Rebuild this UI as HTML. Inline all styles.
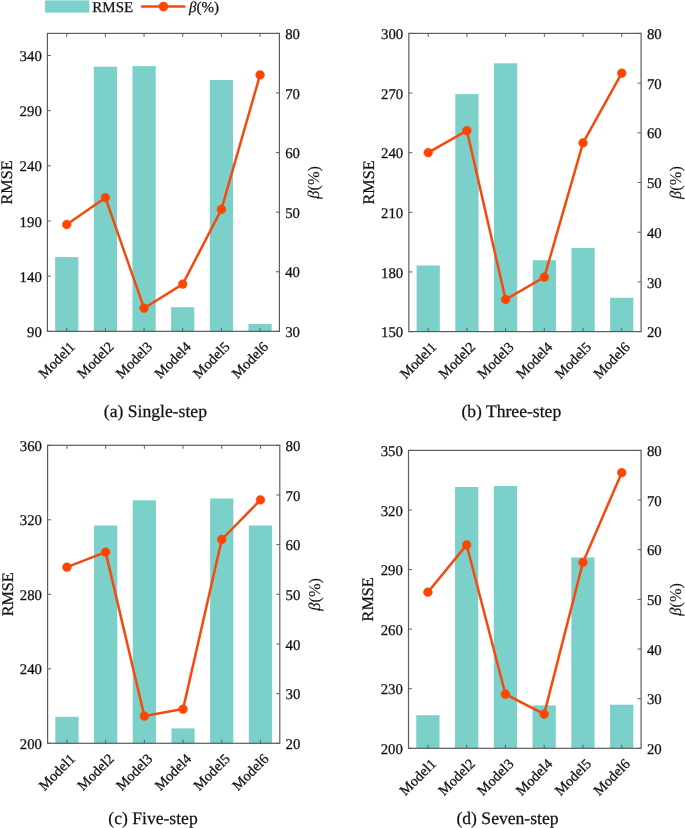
<!DOCTYPE html>
<html><head><meta charset="utf-8"><title>RMSE and β comparison</title>
<style>
html,body{margin:0;padding:0;background:#fff;}
body{width:685px;height:828px;overflow:hidden;}
svg{display:block;}
text{text-rendering:geometricPrecision;font-family:'Liberation Serif', 'Times New Roman', serif;font-size:14.8px;fill:#111;stroke:#111;stroke-width:0.25px;}
</style></head><body>
<svg width="685" height="828" viewBox="0 0 685 828">
<rect width="685" height="828" fill="#fff"/>
<rect x="45.1" y="0.4" width="44.2" height="12.2" fill="#7BD1CA"/>
<text x="92.3" y="11.7" style="font-size:15px">RMSE</text>
<path d="M141.1 6.6H185.4" stroke="#F44A0E" stroke-width="2.5"/>
<circle cx="163.5" cy="6.6" r="4.6" fill="#FF4500" stroke="#F44A0E" stroke-width="0.5"/>
<text x="189" y="11.7" style="font-size:15px"><tspan font-style="italic">β</tspan>(%)</text>
<rect x="55.13" y="257.1" width="23.2" height="74.25" fill="#7BD1CA"/>
<rect x="93.8" y="66.7" width="23.2" height="264.65" fill="#7BD1CA"/>
<rect x="132.47" y="66.1" width="23.2" height="265.25" fill="#7BD1CA"/>
<rect x="171.13" y="307.2" width="23.2" height="24.15" fill="#7BD1CA"/>
<rect x="209.8" y="80" width="23.2" height="251.35" fill="#7BD1CA"/>
<rect x="248.47" y="324" width="23.2" height="7.35" fill="#7BD1CA"/>
<text x="41.8" y="336.95" text-anchor="end">90</text>
<text x="41.8" y="281.77" text-anchor="end">140</text>
<text x="41.8" y="226.6" text-anchor="end">190</text>
<text x="41.8" y="171.42" text-anchor="end">240</text>
<text x="41.8" y="116.25" text-anchor="end">290</text>
<text x="41.8" y="61.07" text-anchor="end">340</text>
<text x="285.2" y="336.95">30</text>
<text x="285.2" y="277.36">40</text>
<text x="285.2" y="217.77">50</text>
<text x="285.2" y="158.18">60</text>
<text x="285.2" y="98.59">70</text>
<text x="285.2" y="39">80</text>
<path d="M47.4 331.35h3.5M47.4 276.17h3.5M47.4 221h3.5M47.4 165.82h3.5M47.4 110.65h3.5M47.4 55.47h3.5M279.4 331.35h-3.5M279.4 271.76h-3.5M279.4 212.17h-3.5M279.4 152.58h-3.5M279.4 92.99h-3.5M279.4 33.4h-3.5M66.73 331.35v-3.5M66.73 33.4v3.5M105.4 331.35v-3.5M105.4 33.4v3.5M144.07 331.35v-3.5M144.07 33.4v3.5M182.73 331.35v-3.5M182.73 33.4v3.5M221.4 331.35v-3.5M221.4 33.4v3.5M260.07 331.35v-3.5M260.07 33.4v3.5" stroke="#5c5c5c" stroke-width="1" fill="none"/>
<rect x="47.4" y="33.4" width="232" height="297.95" fill="none" stroke="#5c5c5c" stroke-width="1.2"/>
<polyline points="66.73,224.5 105.4,197.7 144.07,308.2 182.73,284.1 221.4,209.4 260.07,74.94" fill="none" stroke="#F44A0E" stroke-width="2.5" stroke-linejoin="round"/>
<circle cx="66.73" cy="224.5" r="4.4" fill="#FF4500" stroke="#F44A0E" stroke-width="0.5"/>
<circle cx="105.4" cy="197.7" r="4.4" fill="#FF4500" stroke="#F44A0E" stroke-width="0.5"/>
<circle cx="144.07" cy="308.2" r="4.4" fill="#FF4500" stroke="#F44A0E" stroke-width="0.5"/>
<circle cx="182.73" cy="284.1" r="4.4" fill="#FF4500" stroke="#F44A0E" stroke-width="0.5"/>
<circle cx="221.4" cy="209.4" r="4.4" fill="#FF4500" stroke="#F44A0E" stroke-width="0.5"/>
<circle cx="260.07" cy="74.94" r="4.4" fill="#FF4500" stroke="#F44A0E" stroke-width="0.5"/>
<text transform="translate(75.83,347.65) rotate(-45)" text-anchor="end" style="font-size:14.4px">Model1</text>
<text transform="translate(114.5,347.65) rotate(-45)" text-anchor="end" style="font-size:14.4px">Model2</text>
<text transform="translate(153.17,347.65) rotate(-45)" text-anchor="end" style="font-size:14.4px">Model3</text>
<text transform="translate(191.83,347.65) rotate(-45)" text-anchor="end" style="font-size:14.4px">Model4</text>
<text transform="translate(230.5,347.65) rotate(-45)" text-anchor="end" style="font-size:14.4px">Model5</text>
<text transform="translate(269.17,347.65) rotate(-45)" text-anchor="end" style="font-size:14.4px">Model6</text>
<text transform="translate(12.3,182.38) rotate(-90)" text-anchor="middle" style="font-size:16.2px">RMSE</text>
<text transform="translate(319.2,182.38) rotate(-90)" text-anchor="middle" style="font-size:16.4px;stroke-width:0.1px"><tspan font-style="italic">β</tspan>(%)</text>
<text x="155.4" y="417.2" text-anchor="middle" style="font-size:17.6px">(a) Single-step</text>
<rect x="416.59" y="265.5" width="23.23" height="66.1" fill="#7BD1CA"/>
<rect x="455.3" y="94.1" width="23.23" height="237.5" fill="#7BD1CA"/>
<rect x="494.01" y="63.3" width="23.23" height="268.3" fill="#7BD1CA"/>
<rect x="532.72" y="260.2" width="23.23" height="71.4" fill="#7BD1CA"/>
<rect x="571.43" y="248" width="23.23" height="83.6" fill="#7BD1CA"/>
<rect x="610.13" y="297.8" width="23.23" height="33.8" fill="#7BD1CA"/>
<text x="403.25" y="337.2" text-anchor="end">150</text>
<text x="403.25" y="277.56" text-anchor="end">180</text>
<text x="403.25" y="217.92" text-anchor="end">210</text>
<text x="403.25" y="158.28" text-anchor="end">240</text>
<text x="403.25" y="98.64" text-anchor="end">270</text>
<text x="403.25" y="39" text-anchor="end">300</text>
<text x="646.9" y="337.2">20</text>
<text x="646.9" y="287.5">30</text>
<text x="646.9" y="237.8">40</text>
<text x="646.9" y="188.1">50</text>
<text x="646.9" y="138.4">60</text>
<text x="646.9" y="88.7">70</text>
<text x="646.9" y="39">80</text>
<path d="M408.85 331.6h3.5M408.85 271.96h3.5M408.85 212.32h3.5M408.85 152.68h3.5M408.85 93.04h3.5M408.85 33.4h3.5M641.1 331.6h-3.5M641.1 281.9h-3.5M641.1 232.2h-3.5M641.1 182.5h-3.5M641.1 132.8h-3.5M641.1 83.1h-3.5M641.1 33.4h-3.5M428.2 331.6v-3.5M428.2 33.4v3.5M466.91 331.6v-3.5M466.91 33.4v3.5M505.62 331.6v-3.5M505.62 33.4v3.5M544.33 331.6v-3.5M544.33 33.4v3.5M583.04 331.6v-3.5M583.04 33.4v3.5M621.75 331.6v-3.5M621.75 33.4v3.5" stroke="#5c5c5c" stroke-width="1" fill="none"/>
<rect x="408.85" y="33.4" width="232.25" height="298.2" fill="none" stroke="#5c5c5c" stroke-width="1.2"/>
<polyline points="428.2,152.6 466.91,130.6 505.62,299.5 544.33,277.1 583.04,142.8 621.75,73.1" fill="none" stroke="#F44A0E" stroke-width="2.5" stroke-linejoin="round"/>
<circle cx="428.2" cy="152.6" r="4.4" fill="#FF4500" stroke="#F44A0E" stroke-width="0.5"/>
<circle cx="466.91" cy="130.6" r="4.4" fill="#FF4500" stroke="#F44A0E" stroke-width="0.5"/>
<circle cx="505.62" cy="299.5" r="4.4" fill="#FF4500" stroke="#F44A0E" stroke-width="0.5"/>
<circle cx="544.33" cy="277.1" r="4.4" fill="#FF4500" stroke="#F44A0E" stroke-width="0.5"/>
<circle cx="583.04" cy="142.8" r="4.4" fill="#FF4500" stroke="#F44A0E" stroke-width="0.5"/>
<circle cx="621.75" cy="73.1" r="4.4" fill="#FF4500" stroke="#F44A0E" stroke-width="0.5"/>
<text transform="translate(437.3,347.9) rotate(-45)" text-anchor="end" style="font-size:14.4px">Model1</text>
<text transform="translate(476.01,347.9) rotate(-45)" text-anchor="end" style="font-size:14.4px">Model2</text>
<text transform="translate(514.72,347.9) rotate(-45)" text-anchor="end" style="font-size:14.4px">Model3</text>
<text transform="translate(553.43,347.9) rotate(-45)" text-anchor="end" style="font-size:14.4px">Model4</text>
<text transform="translate(592.14,347.9) rotate(-45)" text-anchor="end" style="font-size:14.4px">Model5</text>
<text transform="translate(630.85,347.9) rotate(-45)" text-anchor="end" style="font-size:14.4px">Model6</text>
<text transform="translate(373.75,182.5) rotate(-90)" text-anchor="middle" style="font-size:16.2px">RMSE</text>
<text transform="translate(680.9,182.5) rotate(-90)" text-anchor="middle" style="font-size:16.4px;stroke-width:0.1px"><tspan font-style="italic">β</tspan>(%)</text>
<text x="511.3" y="417" text-anchor="middle" style="font-size:17.6px">(b) Three-step</text>
<rect x="55.34" y="716.8" width="23.22" height="26.5" fill="#7BD1CA"/>
<rect x="94.04" y="525.5" width="23.22" height="217.8" fill="#7BD1CA"/>
<rect x="132.74" y="500.3" width="23.22" height="243" fill="#7BD1CA"/>
<rect x="171.44" y="728.4" width="23.22" height="14.9" fill="#7BD1CA"/>
<rect x="210.14" y="498.5" width="23.22" height="244.8" fill="#7BD1CA"/>
<rect x="248.84" y="525.5" width="23.22" height="217.8" fill="#7BD1CA"/>
<text x="42" y="748.9" text-anchor="end">200</text>
<text x="42" y="674.4" text-anchor="end">240</text>
<text x="42" y="599.9" text-anchor="end">280</text>
<text x="42" y="525.4" text-anchor="end">320</text>
<text x="42" y="450.9" text-anchor="end">360</text>
<text x="285.6" y="748.9">20</text>
<text x="285.6" y="699.23">30</text>
<text x="285.6" y="649.57">40</text>
<text x="285.6" y="599.9">50</text>
<text x="285.6" y="550.23">60</text>
<text x="285.6" y="500.57">70</text>
<text x="285.6" y="450.9">80</text>
<path d="M47.6 743.3h3.5M47.6 668.8h3.5M47.6 594.3h3.5M47.6 519.8h3.5M47.6 445.3h3.5M279.8 743.3h-3.5M279.8 693.63h-3.5M279.8 643.97h-3.5M279.8 594.3h-3.5M279.8 544.63h-3.5M279.8 494.97h-3.5M279.8 445.3h-3.5M66.95 743.3v-3.5M66.95 445.3v3.5M105.65 743.3v-3.5M105.65 445.3v3.5M144.35 743.3v-3.5M144.35 445.3v3.5M183.05 743.3v-3.5M183.05 445.3v3.5M221.75 743.3v-3.5M221.75 445.3v3.5M260.45 743.3v-3.5M260.45 445.3v3.5" stroke="#5c5c5c" stroke-width="1" fill="none"/>
<rect x="47.6" y="445.3" width="232.2" height="298" fill="none" stroke="#5c5c5c" stroke-width="1.2"/>
<polyline points="66.95,567.2 105.65,552.1 144.35,716.1 183.05,709.1 221.75,539.5 260.45,499.9" fill="none" stroke="#F44A0E" stroke-width="2.5" stroke-linejoin="round"/>
<circle cx="66.95" cy="567.2" r="4.4" fill="#FF4500" stroke="#F44A0E" stroke-width="0.5"/>
<circle cx="105.65" cy="552.1" r="4.4" fill="#FF4500" stroke="#F44A0E" stroke-width="0.5"/>
<circle cx="144.35" cy="716.1" r="4.4" fill="#FF4500" stroke="#F44A0E" stroke-width="0.5"/>
<circle cx="183.05" cy="709.1" r="4.4" fill="#FF4500" stroke="#F44A0E" stroke-width="0.5"/>
<circle cx="221.75" cy="539.5" r="4.4" fill="#FF4500" stroke="#F44A0E" stroke-width="0.5"/>
<circle cx="260.45" cy="499.9" r="4.4" fill="#FF4500" stroke="#F44A0E" stroke-width="0.5"/>
<text transform="translate(76.05,759.6) rotate(-45)" text-anchor="end" style="font-size:14.4px">Model1</text>
<text transform="translate(114.75,759.6) rotate(-45)" text-anchor="end" style="font-size:14.4px">Model2</text>
<text transform="translate(153.45,759.6) rotate(-45)" text-anchor="end" style="font-size:14.4px">Model3</text>
<text transform="translate(192.15,759.6) rotate(-45)" text-anchor="end" style="font-size:14.4px">Model4</text>
<text transform="translate(230.85,759.6) rotate(-45)" text-anchor="end" style="font-size:14.4px">Model5</text>
<text transform="translate(269.55,759.6) rotate(-45)" text-anchor="end" style="font-size:14.4px">Model6</text>
<text transform="translate(12.5,594.3) rotate(-90)" text-anchor="middle" style="font-size:16.2px">RMSE</text>
<text transform="translate(319.6,594.3) rotate(-90)" text-anchor="middle" style="font-size:16.4px;stroke-width:0.1px"><tspan font-style="italic">β</tspan>(%)</text>
<text x="153" y="824.2" text-anchor="middle" style="font-size:17.6px">(c) Five-step</text>
<rect x="416.25" y="715.2" width="23.26" height="33.1" fill="#7BD1CA"/>
<rect x="455.02" y="487" width="23.26" height="261.3" fill="#7BD1CA"/>
<rect x="493.79" y="486" width="23.26" height="262.3" fill="#7BD1CA"/>
<rect x="532.55" y="705.4" width="23.26" height="42.9" fill="#7BD1CA"/>
<rect x="571.32" y="557.5" width="23.26" height="190.8" fill="#7BD1CA"/>
<rect x="610.09" y="704.7" width="23.26" height="43.6" fill="#7BD1CA"/>
<text x="402.9" y="753.9" text-anchor="end">200</text>
<text x="402.9" y="694.32" text-anchor="end">230</text>
<text x="402.9" y="634.74" text-anchor="end">260</text>
<text x="402.9" y="575.16" text-anchor="end">290</text>
<text x="402.9" y="515.58" text-anchor="end">320</text>
<text x="402.9" y="456" text-anchor="end">350</text>
<text x="646.9" y="753.9">20</text>
<text x="646.9" y="704.25">30</text>
<text x="646.9" y="654.6">40</text>
<text x="646.9" y="604.95">50</text>
<text x="646.9" y="555.3">60</text>
<text x="646.9" y="505.65">70</text>
<text x="646.9" y="456">80</text>
<path d="M408.5 748.3h3.5M408.5 688.72h3.5M408.5 629.14h3.5M408.5 569.56h3.5M408.5 509.98h3.5M408.5 450.4h3.5M641.1 748.3h-3.5M641.1 698.65h-3.5M641.1 649h-3.5M641.1 599.35h-3.5M641.1 549.7h-3.5M641.1 500.05h-3.5M641.1 450.4h-3.5M427.88 748.3v-3.5M466.65 748.3v-3.5M505.42 748.3v-3.5M544.18 748.3v-3.5M582.95 748.3v-3.5M621.72 748.3v-3.5" stroke="#5c5c5c" stroke-width="1" fill="none"/>
<rect x="408.5" y="450.4" width="232.6" height="297.9" fill="none" stroke="#5c5c5c" stroke-width="1.2"/>
<polyline points="427.88,592.2 466.65,544.9 505.42,694.2 544.18,714.1 582.95,562.4 621.72,472.7" fill="none" stroke="#F44A0E" stroke-width="2.5" stroke-linejoin="round"/>
<circle cx="427.88" cy="592.2" r="4.4" fill="#FF4500" stroke="#F44A0E" stroke-width="0.5"/>
<circle cx="466.65" cy="544.9" r="4.4" fill="#FF4500" stroke="#F44A0E" stroke-width="0.5"/>
<circle cx="505.42" cy="694.2" r="4.4" fill="#FF4500" stroke="#F44A0E" stroke-width="0.5"/>
<circle cx="544.18" cy="714.1" r="4.4" fill="#FF4500" stroke="#F44A0E" stroke-width="0.5"/>
<circle cx="582.95" cy="562.4" r="4.4" fill="#FF4500" stroke="#F44A0E" stroke-width="0.5"/>
<circle cx="621.72" cy="472.7" r="4.4" fill="#FF4500" stroke="#F44A0E" stroke-width="0.5"/>
<text transform="translate(436.98,764.6) rotate(-45)" text-anchor="end" style="font-size:14.4px">Model1</text>
<text transform="translate(475.75,764.6) rotate(-45)" text-anchor="end" style="font-size:14.4px">Model2</text>
<text transform="translate(514.52,764.6) rotate(-45)" text-anchor="end" style="font-size:14.4px">Model3</text>
<text transform="translate(553.28,764.6) rotate(-45)" text-anchor="end" style="font-size:14.4px">Model4</text>
<text transform="translate(592.05,764.6) rotate(-45)" text-anchor="end" style="font-size:14.4px">Model5</text>
<text transform="translate(630.82,764.6) rotate(-45)" text-anchor="end" style="font-size:14.4px">Model6</text>
<text transform="translate(373.4,599.35) rotate(-90)" text-anchor="middle" style="font-size:16.2px">RMSE</text>
<text transform="translate(680.9,599.35) rotate(-90)" text-anchor="middle" style="font-size:16.4px;stroke-width:0.1px"><tspan font-style="italic">β</tspan>(%)</text>
<text x="507.5" y="824" text-anchor="middle" style="font-size:17.6px">(d) Seven-step</text>
</svg>
</body></html>
